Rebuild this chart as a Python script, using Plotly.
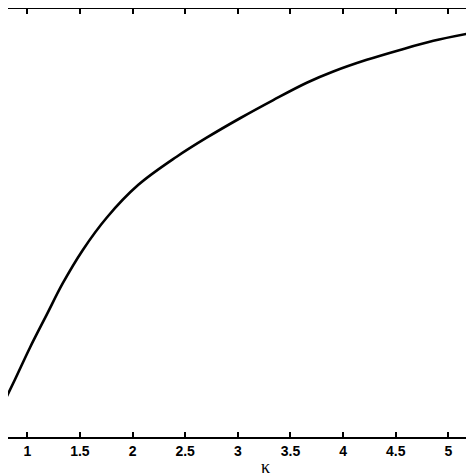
import plotly.graph_objects as go

# curve (y in arbitrary units, 0..1 = full frame height)
kappa = [0.741, 0.883, 1.026, 1.187, 1.336, 1.526, 1.754, 2.055, 2.419, 2.704,
         3.021, 3.337, 3.655, 3.907, 4.225, 4.541, 4.858, 5.238, 5.26]
value = [0.061, 0.133, 0.207, 0.284, 0.355, 0.432, 0.507, 0.583, 0.648, 0.692,
         0.737, 0.779, 0.819, 0.845, 0.872, 0.895, 0.916, 0.935, 0.936]

tick_vals = [1, 1.5, 2, 2.5, 3, 3.5, 4, 4.5, 5]
tick_text = ["1", "1.5", "2", "2.5", "3", "3.5", "4", "4.5", "5"]

fig = go.Figure()
fig.add_trace(go.Scatter(x=kappa, y=value, mode='lines',
                         line=dict(color='black', width=2.6, shape='spline', smoothing=1.0),
                         showlegend=False))

# page has an 8px body margin, so the figure is a bit smaller and shifted
fig.update_layout(
    width=466, height=466,
    margin=dict(l=0, r=0, t=1, b=37, pad=0),
    plot_bgcolor='white', paper_bgcolor='white',
)

fig.update_xaxes(range=[0.8166, 5.244], tickvals=tick_vals, ticktext=tick_text,
                 showline=True, linecolor='black', linewidth=2.2, mirror='ticks',
                 ticks='inside', ticklen=5, tickwidth=2, tickcolor='black',
                 showgrid=False, zeroline=False,
                 tickfont=dict(family='Liberation Sans', size=14, color='black', weight='bold'))
fig.update_yaxes(range=[0, 0.9896], showline=False, showgrid=False, zeroline=False,
                 showticklabels=False, ticks='')

# x axis title sits low, mostly below the tick labels
fig.add_annotation(text='κ', x=257/466, y=-0.071, xref='paper', yref='paper',
                   showarrow=False, yanchor='middle',
                   font=dict(family='Liberation Serif', size=18, color='black'))

fig.write_html("out.html")
